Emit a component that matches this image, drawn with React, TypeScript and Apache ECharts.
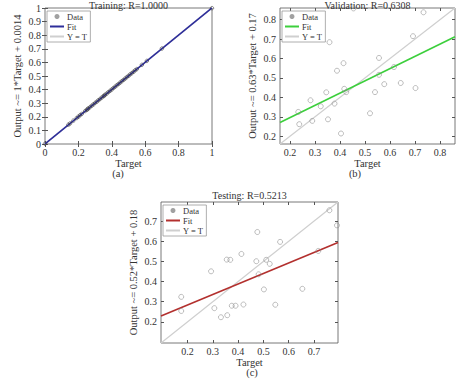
import React, { useEffect, useRef } from "react";
import * as echarts from "echarts";

// ---------- data ----------
const trainTarget = [0, 0.14, 0.15, 0.17, 0.19, 0.2, 0.21, 0.22, 0.24, 0.25, 0.255, 0.26, 0.27, 0.28, 0.29, 0.3, 0.31, 0.32, 0.33, 0.34, 0.35, 0.355, 0.36, 0.37, 0.38, 0.39, 0.4, 0.41, 0.42, 0.43, 0.44, 0.45, 0.46, 0.47, 0.48, 0.49, 0.5, 0.51, 0.52, 0.53, 0.54, 0.55, 0.58, 0.61, 0.7, 1.0];
const trainOutput = [0.002, 0.142, 0.151, 0.172, 0.191, 0.201, 0.212, 0.221, 0.242, 0.251, 0.256, 0.262, 0.271, 0.282, 0.291, 0.302, 0.311, 0.322, 0.331, 0.342, 0.351, 0.356, 0.362, 0.371, 0.382, 0.391, 0.401, 0.412, 0.421, 0.432, 0.441, 0.451, 0.462, 0.471, 0.481, 0.492, 0.501, 0.512, 0.521, 0.531, 0.542, 0.551, 0.582, 0.611, 0.702, 0.999];

const valTarget = [0.233, 0.237, 0.282, 0.289, 0.323, 0.345, 0.352, 0.358, 0.378, 0.388, 0.404, 0.414, 0.417, 0.425, 0.447, 0.454, 0.52, 0.54, 0.556, 0.556, 0.577, 0.616, 0.643, 0.692, 0.702, 0.734];
const valOutput = [0.325, 0.262, 0.385, 0.279, 0.354, 0.426, 0.287, 0.684, 0.368, 0.537, 0.214, 0.576, 0.444, 0.427, 0.159, 0.858, 0.318, 0.427, 0.603, 0.516, 0.468, 0.556, 0.474, 0.715, 0.448, 0.838];

const testTarget = [0.09, 0.175, 0.175, 0.293, 0.306, 0.332, 0.355, 0.357, 0.369, 0.375, 0.39, 0.413, 0.421, 0.472, 0.476, 0.481, 0.502, 0.511, 0.525, 0.547, 0.566, 0.654, 0.717, 0.761, 0.791];
const testOutput = [0.351, 0.324, 0.254, 0.451, 0.268, 0.223, 0.509, 0.233, 0.508, 0.28, 0.28, 0.537, 0.286, 0.501, 0.646, 0.436, 0.361, 0.508, 0.488, 0.285, 0.597, 0.364, 0.552, 0.754, 0.679];

const fitA = { slope: 1, intercept: 0.0014 };
const fitB = { slope: 0.63, intercept: 0.17 };
const fitC = { slope: 0.52, intercept: 0.18 };

const rangeA = [0, 1];
const rangeB = [0.16, 0.86];
const rangeC = [0.095, 0.795];

const ticksAx = [0, 0.2, 0.4, 0.6, 0.8, 1];
const ticksAy = [0, 0.1, 0.2, 0.3, 0.4, 0.5, 0.6, 0.7, 0.8, 0.9, 1];
const ticksB = [0.2, 0.3, 0.4, 0.5, 0.6, 0.7, 0.8];
const ticksC = [0.2, 0.3, 0.4, 0.5, 0.6, 0.7];

const titles = ["Training: R=1.0000", "Validation: R=0.6308", "Testing: R=0.5213"];
const yNames = ["Output ~= 1*Target + 0.0014", "Output ~= 0.63*Target + 0.17", "Output ~= 0.52*Target + 0.18"];
const captions = ["(a)", "(b)", "(c)"];
const fitColors = ["#2e2e9a", "#3ccf3c", "#b3302e"];

const FONT = "'Liberation Serif', 'Times New Roman', serif";

export default function App() {
  const ref = useRef<HTMLDivElement>(null);
  useEffect(() => {
    if (!ref.current) return;
    const chart = echarts.init(ref.current, undefined, { renderer: "svg" });

    const grids = [
      { left: 45, top: 8, width: 167, height: 136 },
      { left: 280, top: 8, width: 175, height: 136 },
      { left: 161, top: 202, width: 177, height: 141 },
    ];
    const ranges = [rangeA, rangeB, rangeC];
    const xt = [ticksAx, ticksB, ticksC];
    const yt = [ticksAy, ticksB, ticksC];
    const fits = [fitA, fitB, fitC];
    const dataSets = [
      trainTarget.map((t, i) => [t, trainOutput[i]]),
      valTarget.map((t, i) => [t, valOutput[i]]),
      testTarget.map((t, i) => [t, testOutput[i]]),
    ];
    const suffix = ["_a", "_b", "_c"];

    const xAxes: any[] = [];
    const yAxes: any[] = [];
    const series: any[] = [];
    const legends: any[] = [];
    const titleComps: any[] = [];

    const labelStyle = { fontFamily: FONT, fontSize: 10, color: "#333" };

    for (let i = 0; i < 3; i++) {
      const [mn, mx] = ranges[i];
      const fmt = (v: number) => (Math.abs(v) < 1e-9 ? "0" : String(Number(v.toFixed(2))));
      xAxes.push({
        type: "value", gridIndex: i, position: "bottom", min: mn, max: mx,
        name: "Target", nameLocation: "middle", nameGap: 13,
        nameTextStyle: { fontFamily: FONT, fontSize: 10.5, color: "#333" },
        axisLine: { show: false }, splitLine: { show: false },
        axisTick: { show: true, inside: true, length: 3, customValues: xt[i], lineStyle: { color: "#555" } },
        axisLabel: { customValues: xt[i], formatter: fmt, margin: 3, ...labelStyle },
      });
      xAxes.push({
        type: "value", gridIndex: i, position: "top", min: mn, max: mx,
        axisLine: { show: false }, splitLine: { show: false },
        axisTick: { show: true, inside: true, length: 3, customValues: xt[i], lineStyle: { color: "#555" } },
        axisLabel: { show: false, customValues: xt[i] },
      });
      yAxes.push({
        type: "value", gridIndex: i, position: "left", min: mn, max: mx,
        name: yNames[i], nameLocation: "middle", nameGap: 22, nameRotate: 90,
        nameTextStyle: { fontFamily: FONT, fontSize: 10.5, color: "#333" },
        axisLine: { show: false }, splitLine: { show: false },
        axisTick: { show: true, inside: true, length: 3, customValues: yt[i], lineStyle: { color: "#555" } },
        axisLabel: { customValues: yt[i], formatter: fmt, margin: 4, ...labelStyle },
      });
      yAxes.push({
        type: "value", gridIndex: i, position: "right", min: mn, max: mx,
        axisLine: { show: false }, splitLine: { show: false },
        axisTick: { show: true, inside: true, length: 3, customValues: yt[i], lineStyle: { color: "#555" } },
        axisLabel: { show: false, customValues: yt[i] },
      });

      const xi = 2 * i;
      const yi = 2 * i;
      const f = fits[i];
      const dotColor = i === 0 ? "#333" : "#8a8a8a";
      series.push({
        name: "Data" + suffix[i], type: "scatter", xAxisIndex: xi, yAxisIndex: yi,
        data: dataSets[i], symbol: "circle", symbolSize: i === 0 ? 3.5 : 5,
        itemStyle: { color: "rgba(255,255,255,0)", borderColor: dotColor, borderWidth: 0.7 },
        z: 3,
      });
      series.push({
        name: "Fit" + suffix[i], type: "line", xAxisIndex: xi, yAxisIndex: yi,
        data: [[mn, f.slope * mn + f.intercept], [mx, f.slope * mx + f.intercept]],
        showSymbol: false, symbol: "none",
        lineStyle: { color: fitColors[i], width: 1.6 }, itemStyle: { color: fitColors[i] },
        z: 2,
      });
      series.push({
        name: "Y = T" + suffix[i], type: "line", xAxisIndex: xi, yAxisIndex: yi,
        data: [[mn, mn], [mx, mx]],
        showSymbol: false, symbol: "none",
        lineStyle: { color: "#cfcfcf", width: 1.2 }, itemStyle: { color: "#cfcfcf" },
        z: 1,
      });

      legends.push({
        left: grids[i].left + 2, top: grids[i].top + 3, orient: "vertical",
        data: [
          { name: "Data" + suffix[i], itemStyle: { color: "#8a8a8a", borderColor: "#8a8a8a", borderWidth: 0 } },
          { name: "Fit" + suffix[i], itemStyle: { opacity: 0 } },
          { name: "Y = T" + suffix[i], itemStyle: { opacity: 0 } },
        ],
        formatter: (n: string) => n.split("_")[0],
        itemWidth: 14, itemHeight: 5, itemGap: 1, padding: [1, 3, 1, 2],
        borderColor: "#9a9a9a", borderWidth: 0.8, backgroundColor: "#fff",
        selectedMode: false,
        textStyle: { fontFamily: FONT, fontSize: 8.5, color: "#333", padding: [0, 0, 0, -2] },
      });

      titleComps.push({
        text: titles[i],
        left: grids[i].left + grids[i].width / 2, textAlign: "center",
        top: i === 2 ? grids[i].top - 12 : 0,
        padding: 0,
        textStyle: { fontFamily: FONT, fontSize: 10, fontWeight: "normal", color: "#333" },
      });
    }

    const capPos = [
      { x: 118, y: 173 },
      { x: 355, y: 173 },
      { x: 252, y: 372 },
    ];
    const graphics = captions.map((c, i) => ({
      type: "text", x: capPos[i].x, y: capPos[i].y,
      style: { text: c, fontFamily: FONT, fontSize: 10.5, fill: "#333", textAlign: "center", textVerticalAlign: "middle" },
    }));

    chart.setOption({
      animation: false,
      backgroundColor: "#fff",
      grid: grids.map((g) => ({ ...g, show: true, borderColor: "#555", borderWidth: 0.8, backgroundColor: "#fff", containLabel: false })),
      title: titleComps,
      legend: legends,
      xAxis: xAxes,
      yAxis: yAxes,
      series,
      graphic: graphics,
    });
    return () => chart.dispose();
  }, []);
  return <div ref={ref} style={{ width: 474, height: 379, position: "absolute", left: 0, top: 0 }} />;
}
